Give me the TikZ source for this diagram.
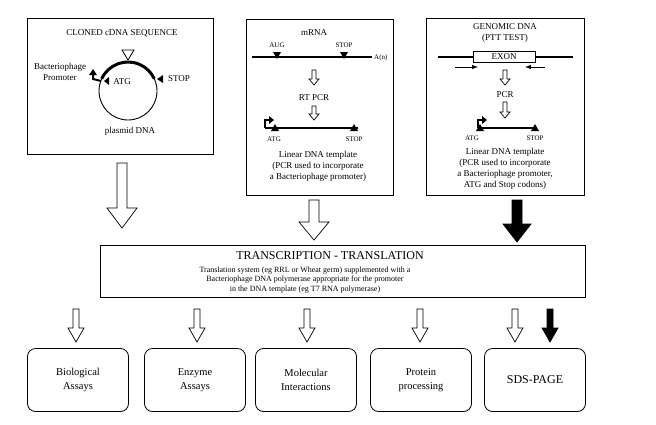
\documentclass[tikz,border=0pt]{standalone}
\usepackage{fontspec}
\setmainfont{Liberation Serif}
\begin{document}
\newcommand\barw[7]{% x, ytop, ybot, half shaft, half head, head len, fill
  \filldraw[fill=#7,draw=black,line width=0.7pt,line join=miter]
   ({#1-#4},#2) -- ({#1+#4},#2) -- ({#1+#4},{#3-#6}) -- ({#1+#5},{#3-#6}) -- (#1,#3)
   -- ({#1-#5},{#3-#6}) -- ({#1-#4},{#3-#6}) -- cycle;}
\begin{tikzpicture}[x=1pt,y=-1pt,
  box/.style={draw,line width=0.8pt},
  rbox/.style={draw,line width=0.8pt,rounded corners=8pt,minimum width=101pt,minimum height=63pt,align=center,font=\fontsize{10.5}{14}\selectfont},
  lbl/.style={font=\fontsize{7}{8}\selectfont,inner sep=1pt},
  txt/.style={font=\fontsize{9}{11}\selectfont,align=center,inner sep=1pt},
  dna/.style={line width=2pt}]
\useasboundingbox[fill=white] (0,0) rectangle (656,424);
% box 1
\draw[box] (27,18) rectangle (213,154);
\node[txt] (t1) at (122,33) {CLONED cDNA SEQUENCE};
\draw[line width=0.9pt] (128,91) circle (29);
\draw[line width=3pt] (128,91) ++(205:29) arc (205:335:29);
\filldraw[fill=white,line width=0.8pt] (122,50) -- (134,50) -- (128,60) -- cycle;
\node[txt,align=left] (bp) at (60,72) {Bacteriophage\\\hspace*{1em}Promoter};
\draw[line width=2pt] (101,81) -- (93,79) -- (93,74);
\fill (93,69) -- (89,75) -- (97,75) -- cycle;
\fill (104,81) -- (109,77) -- (109,85) -- cycle;
\node[txt] (atg1) at (122,82) {ATG};
\fill (157,79) -- (163,75) -- (163,83) -- cycle;
\node[txt] (stop1) at (179,79) {STOP};
\node[txt] (pd) at (130,131) {plasmid DNA};
\barw{122}{163}{228}{5}{15}{20}{white}
% box 2
\draw[box] (246,19) rectangle (393,195);
\node[txt] (m) at (314,33) {mRNA};
\draw[dna] (252,57) -- (372,57);
\node[lbl,anchor=west] at (373,58) {A(n)};
\fill (273,52) -- (281,52) -- (277,59) -- cycle; \node[lbl] at (277,45) {AUG};
\fill (340,52) -- (348,52) -- (344,59) -- cycle; \node[lbl] at (344,45) {STOP};
\barw{314}{70}{85}{2}{5}{6}{white}
\node[txt] (rt) at (314,98) {RT PCR};
\barw{314}{106}{120}{2}{5}{6}{white}
\draw[dna] (265,128) -- (358,128);
\draw[line width=2pt] (265,128) -- (265,120) -- (270,120);
\fill (274,120) -- (269,116) -- (269,124) -- cycle;
\fill (271,131) -- (279,131) -- (275,124) -- cycle;
\fill (350,131) -- (358,131) -- (354,124) -- cycle;
\node[lbl] at (274,139) {ATG}; \node[lbl] at (354,139) {STOP};
\node[txt] (lt2) at (318,166) {Linear DNA template\\(PCR used to incorporate\\a Bacteriophage promoter)};
\barw{314}{200}{240}{5}{15}{18}{white}
% box 3
\draw[box] (426,18) rectangle (584,195);
\node[txt] (g) at (505,33) {GENOMIC DNA\\(PTT TEST)};
\draw[dna] (438,57) -- (473,57); \draw[dna] (535,57) -- (573,57);
\draw[line width=1pt] (473,51) rectangle (535,62);
\node[txt] at (504,57) {EXON};
\draw[line width=1pt,-latex] (455,67) -- (478,67);
\draw[line width=1pt,-latex] (545,67) -- (525,67);
\barw{505}{70}{85}{2}{5}{6}{white}
\node[txt] (pcr) at (505,95) {PCR};
\barw{505}{102}{118}{2}{5}{6}{white}
\draw[dna] (478,128) -- (537,128);
\draw[line width=2pt] (478,128) -- (478,120) -- (483,120);
\fill (487,120) -- (482,116) -- (482,124) -- cycle;
\fill (476,131) -- (484,131) -- (480,124) -- cycle;
\fill (531,131) -- (539,131) -- (535,124) -- cycle;
\node[lbl] at (472,138) {ATG}; \node[lbl] at (535,138) {STOP};
\node[txt] (lt3) at (505,169) {Linear DNA template\\(PCR used to incorporate\\a Bacteriophage promoter,\\ATG and Stop codons)};
\barw{517}{200}{242}{5}{14}{18}{black}
% transcription box
\draw[box] (100,245) rectangle (585,297);
\node[font=\fontsize{12}{14}\selectfont] (tt) at (330,256) {TRANSCRIPTION - TRANSLATION};
\node[txt,font=\fontsize{8}{9.5}\selectfont] (ts) at (305,280) {Translation system (eg RRL or Wheat germ) supplemented with a\\Bacteriophage DNA polymerase appropriate for the promoter\\in the DNA template (eg T7 RNA polymerase)};
% bottom arrows
\barw{76}{309}{342}{3}{8}{14}{white}
\barw{197}{309}{342}{3}{8}{14}{white}
\barw{307}{309}{342}{3}{8}{14}{white}
\barw{420}{309}{342}{3}{8}{14}{white}
\barw{515}{309}{342}{3}{8}{14}{white}
\barw{550}{309}{342}{3}{8}{14}{black}
% bottom boxes
\node[rbox] (b1) at (78,380) {Biological\\Assays};
\node[rbox] (b2) at (195,380) {Enzyme\\Assays};
\node[rbox] (b3) at (306,380) {Molecular\\Interactions};
\node[rbox] (b4) at (421,380) {Protein\\processing};
\node[rbox,font=\fontsize{12}{14}\selectfont] (b5) at (535,380) {SDS-PAGE};
\end{tikzpicture}
\end{document}
